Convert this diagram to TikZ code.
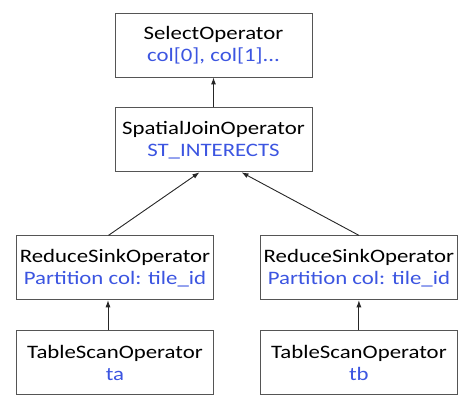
\documentclass[tikz,border=0pt]{standalone}
\usepackage{fontspec}
\setmainfont{Carlito}[FakeStretch=1.2]
\usetikzlibrary{arrows.meta,positioning}
\definecolor{opblue}{RGB}{60,85,225}
\definecolor{boxgray}{RGB}{85,85,85}

\begin{document}
\begin{tikzpicture}[
    op/.style={rectangle,
        draw=boxgray,
        line width=0.9pt,
        fill=white,
        text centered,
        align=center,
        inner sep=0pt,
        minimum height=64pt,
        minimum width=197pt,
        font=\fontsize{19}{22}\selectfont},
    link/.style={-{Latex[length=7pt,width=5pt]},
        line width=0.9pt,
        draw=black!85},
        on grid=false,
        node distance=30pt,
    ]
    \useasboundingbox (0,0) rectangle (474pt,-406pt);

    \node [op] (select) at (213.5pt,-45pt) {SelectOperator\\\textcolor{opblue}{col[0], col[1]...}};
    \node [op, below = of select] (spatialjoin) {SpatialJoinOperator\\\textcolor{opblue}{ST\_INTERECTS}};
    \node [op, below = 63pt of spatialjoin, xshift=-98.5pt] (reduceleft) {ReduceSinkOperator\\\textcolor{opblue}{Partition col: tile\_id}};
    \node [op, right = 46pt of reduceleft] (reduceright) {ReduceSinkOperator\\\textcolor{opblue}{Partition col: tile\_id}};
    \node [op, below = of reduceleft] (scanleft) {TableScanOperator\\\textcolor{opblue}{ta}};
    \node [op, below = of reduceright] (scanright) {TableScanOperator\\\textcolor{opblue}{tb}};

    \draw[link] (spatialjoin.north) -- (select.south);
    \draw[link] ([xshift=-6.5pt]reduceleft.north) -- ([xshift=-14pt]spatialjoin.south);
    \draw[link] (reduceright.north) -- ([xshift=28pt]spatialjoin.south);
    \draw[link] ([xshift=-7pt]scanleft.north) -- ([xshift=-7pt]reduceleft.south);
    \draw[link] (scanright.north) -- (reduceright.south);
\end{tikzpicture}
\end{document}
